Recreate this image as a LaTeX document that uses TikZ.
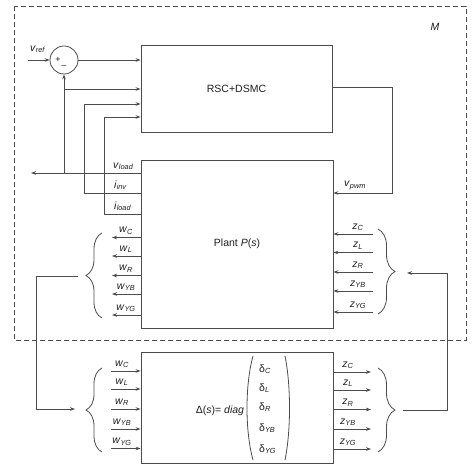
\documentclass[tikz,border=0pt]{standalone}
\usepackage{fontspec}
\setmainfont{Liberation Sans}
\usetikzlibrary{arrows.meta,decorations.pathreplacing,calc}
\definecolor{lc}{gray}{0.3}
\definecolor{tc}{gray}{0.12}
\newcommand\lbl[2]{\textit{#1}\textsubscript{\textit{#2}}}
\begin{document}
\begin{tikzpicture}[x=1pt,y=-1pt,
  ln/.style={draw=lc, line width=0.8pt},
  arr/.style={ln,-{Stealth[length=5pt,width=3.6pt]}},
  blk/.style={draw=lc, line width=0.8pt, rectangle, inner sep=0pt, text=tc, font=\fontsize{10.5}{12}\selectfont},
  lab/.style={font=\fontsize{10.5}{12}\selectfont, text=tc, inner sep=0pt},
  brcL/.style={draw=lc, line width=0.8pt, decorate, decoration={brace, amplitude=16pt}},
  brcR/.style={draw=lc, line width=0.8pt, decorate, decoration={brace, amplitude=17pt}}]
\useasboundingbox (0,0) rectangle (474,470);
% frame M
\draw[draw=lc, dash pattern=on 5pt off 3pt, line width=0.7pt] (14,6) rectangle (466,340);
\node[lab, font=\fontsize{10.5}{12}\selectfont\itshape] (M) at (435,27) {M};
% blocks
\node[blk, minimum width=191pt, minimum height=87pt] (rsc) at (236.5,88.5) {RSC+DSMC};
\node[blk, minimum width=192pt, minimum height=168pt] (plant) at (237,244) {Plant \textit{P}(\textit{s})};
\node[blk, minimum width=192pt, minimum height=111pt] (delta) at (237,407.5) {};
\node[lab] (dtext) at (220,411) {Δ(\textit{s})= \textit{diag}};
% summing junction
\node[draw=lc, line width=0.8pt, circle, minimum size=28pt, inner sep=0pt] (sum) at (64,60) {};
\node[lab, font=\fontsize{9}{10}\selectfont] (plus) at (58,60) {+};
\node[lab, font=\fontsize{9}{10}\selectfont] (minus) at (64,67.5) {–};
% reference input
\coordinate (vin) at (28,60);
\draw[arr] (vin) -- (sum.west);
\node[lab, anchor=south west] (vref) at (30,53) {\lbl{v}{ref}};
\draw[arr] (sum.east) -- (sum.east -| rsc.west);
% feedback lines
\coordinate (vl) at (31,173);
\coordinate (fa) at (64,173);
\coordinate (fa2) at (64,89);
\coordinate (fb) at (84,193);
\coordinate (fb2) at (84,104);
\coordinate (fc) at (104,214);
\coordinate (fc2) at (104,117);
\draw[arr] (vl -| plant.west) -- (vl);
\draw[arr] (fa) -- (sum.south);
\draw[arr] (fa2) -- (fa2 -| rsc.west);
\draw[arr] (fb -| plant.west) -- (fb) -- (fb2) -- (fb2 -| rsc.west);
\draw[arr] (fc -| plant.west) -- (fc) -- (fc2) -- (fc2 -| rsc.west);
\node[lab, anchor=south west] (lvl) at (113,170) {\lbl{v}{load}};
\node[lab, anchor=south west] (lii) at (114,190) {\lbl{i}{inv}};
\node[lab, anchor=south west] (lil) at (114,211) {\lbl{i}{load}};
% vpwm
\coordinate (pw1) at (392,87);
\coordinate (pw2) at (392,193);
\draw[arr] (pw1 -| rsc.east) -- (pw1) -- (pw2) -- (pw2 -| plant.east);
\node[lab, anchor=south west] (lpw) at (344,190) {\lbl{v}{pwm}};
% plant w outputs and z inputs
\foreach \y/\s/\n in {237.5/C/1,256/L/2,275.5/R/3,294/YB/4,315/YG/5}{
  \coordinate (pw\n) at (112,\y);
  \draw[arr] (pw\n -| plant.west) -- (pw\n);
  \node[lab, anchor=south] (plw\n) at (126,\y-3) {\lbl{w}{\s}};
}
\foreach \y/\s/\n in {234/C/1,252.5/L/2,272/R/3,291/YB/4,312/YG/5}{
  \coordinate (pz\n) at (373,\y);
  \draw[arr] (pz\n) -- (pz\n -| plant.east);
  \node[lab, anchor=south] (plz\n) at (358,\y-3) {\lbl{z}{\s}};
}
% delta inputs and outputs
\foreach \y/\s/\n in {371/C/1,389/L/2,409/R/3,429/YB/4,448.5/YG/5}{
  \coordinate (dw\n) at (111,\y);
  \draw[arr] (dw\n) -- (dw\n -| delta.west);
  \node[lab, anchor=south] (dlw\n) at (122,\y-3) {\lbl{w}{\s}};
}
\foreach \y/\s/\n in {372/C/1,390/L/2,409.5/R/3,429/YB/4,449/YG/5}{
  \coordinate (dz\n) at (371,\y);
  \draw[arr] (dz\n -| delta.east) -- (dz\n);
  \node[lab, anchor=south] (dlz\n) at (348,\y-3) {\lbl{z}{\s}};
}
% delta matrix
\draw[ln] (253,356) .. controls (245,385) and (245,431) .. (253,460);
\draw[ln] (285,356) .. controls (291,385) and (291,431) .. (285,460);
\foreach \y/\s/\n in {372/C/1,391/L/2,410/R/3,431/YB/4,452/YG/5}{
  \node[lab, anchor=base west] (dd\n) at (259,\y) {δ\textsubscript{\textit{\s}}};
}
% braces
\draw[brcL] (102,318) -- (102,233);
\draw[brcR] (378,229) -- (378,314);
\draw[brcL] (102,452) -- (102,368);
\draw[brcR] (378,368) -- (378,452);
% loop connections
\coordinate (l1) at (78,276);
\coordinate (l2) at (36,276);
\coordinate (l3) at (36,409);
\coordinate (l4) at (75,409);
\draw[arr] (l1) -- (l2) -- (l3) -- (l4);
\coordinate (r1) at (403,410);
\coordinate (r2) at (447,410);
\coordinate (r3) at (447,273);
\coordinate (r4) at (407,273);
\draw[arr] (r1) -- (r2) -- (r3) -- (r4);
\end{tikzpicture}
\end{document}
